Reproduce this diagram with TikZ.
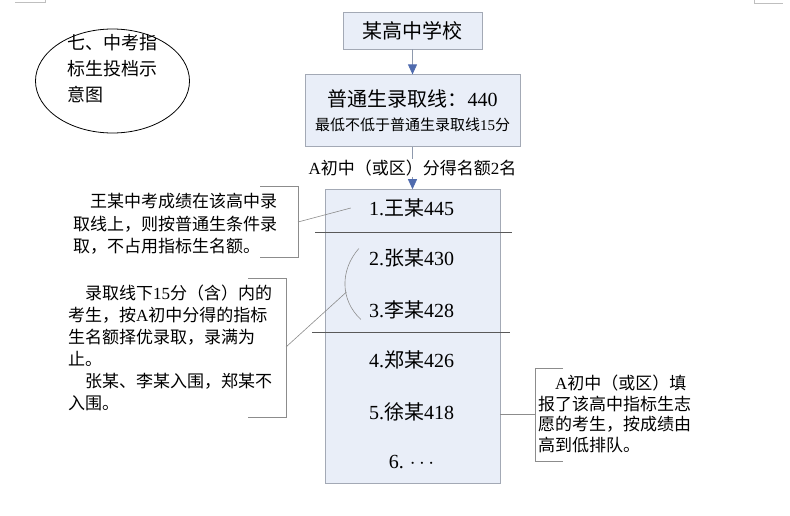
\documentclass[tikz,border=0pt]{standalone}
\usepackage{fontspec}
\setmainfont{Noto Sans CJK SC}
\newfontfamily\digitfont{Liberation Serif}
\usetikzlibrary{arrows.meta,positioning,shapes.geometric}
\definecolor{boxfill}{HTML}{E9EEF8}
\definecolor{boxline}{HTML}{A3A9B5}
\definecolor{tipblue}{HTML}{4F6BAE}
\definecolor{stemgray}{HTML}{8E99AD}
\definecolor{notegray}{HTML}{8C8C8C}

\begin{document}
\begin{tikzpicture}[x=1pt,y=-1pt,
  flow line/.style={draw=stemgray,line width=0.8pt,
    -{Triangle[width=9pt,length=10pt,color=tipblue,fill=tipblue]}},
  school box/.style={rectangle,draw=boxline,fill=boxfill,line width=0.8pt,
    inner sep=0pt},
  item node/.style={inner sep=0pt,font=\fontsize{20}{24}\selectfont},
  note node/.style={inner sep=0pt,align=left,anchor=west},
  note line/.style={draw=notegray,line width=0.6pt},
  sep line/.style={draw=black!65,line width=0.7pt}]

  \useasboundingbox (0,0) rectangle (790,516);
  \draw[black!25,line width=0.5pt] (15,2) -- (45,2) -- (45,0);
  \draw[black!25,line width=0.5pt] (754,0) -- (754,3) -- (783,3);

  % title
  \node[ellipse,draw,line width=0.8pt,minimum width=154pt,minimum height=104pt] (Title) at (112.5,81) {};
  \node[note node,font=\fontsize{18}{26}\selectfont] (TitleText) at (67,69) {七、中考指\\标生投档示\\意图};

  % main column
  \node[school box,minimum width=139pt,minimum height=37pt,
    font=\fontsize{20}{24}\selectfont] (School) at (412.5,30.5) {某高中学校};
  \node[school box,minimum width=215pt,minimum height=72pt,align=center,
    below=25pt of School] (Line)
    {\fontsize{20}{25}\selectfont 普通生录取线：{\digitfont 440}\\[8pt]
     \fontsize{15}{19}\selectfont 最低不低于普通生录取线{\digitfont 15}分};
  \node[school box,minimum width=175pt,minimum height=294pt,below=42pt of Line] (List) {};

  \node[item node] (Wang) at (411.5,208) {{\digitfont 1.}王某{\digitfont 445}};
  \node[item node] (Zhang) at (411.5,258) {{\digitfont 2.}张某{\digitfont 430}};
  \node[item node] (Li) at (411.5,310) {{\digitfont 3.}李某{\digitfont 428}};
  \node[item node] (Zheng) at (411.5,360) {{\digitfont 4.}郑某{\digitfont 426}};
  \node[item node] (Xu) at (411.5,412) {{\digitfont 5.}徐某{\digitfont 418}};
  \node[item node] (More) at (411.5,462) {{\digitfont 6.} $\cdots$};

  \draw[sep line] (315,232) -- (512,232);
  \draw[sep line] (312,332) -- (510,332);

  \path (School) edge[flow line] (Line)
    (Line) edge[flow line] node[fill=white,inner sep=1pt,
      font=\fontsize{17}{20}\selectfont] {{\digitfont A}初中（或区）分得名额{\digitfont 2}名} (List);

  % notes
  \node[note node,font=\fontsize{17}{22.5}\selectfont] (WangNote) at (73,224)
    {\hspace*{1em}王某中考成绩在该高中录\\取线上，则按普通生条件录\\取，不占用指标生名额。};
  \node[note node,font=\fontsize{17}{22}\selectfont] (QuotaNote) at (68,348)
    {\hspace*{1em}录取线下{\digitfont 15}分（含）内的\\考生，按{\digitfont A}初中分得的指标\\生名额择优录取，录满为\\止。\\\hspace*{1em}张某、李某入围，郑某不\\入围。};
  \node[note node,font=\fontsize{17}{20.7}\selectfont] (RankNote) at (538,414)
    {\hspace*{1em}{\digitfont A}初中（或区）填\\报了该高中指标生志\\愿的考生，按成绩由\\高到低排队。};

  \draw[note line] (260,186) -- (298,186) -- (298,257) -- (260,257);
  \draw[note line] (248,278) -- (286,278) -- (286,417) -- (248,417);
  \draw[note line] (563,368) -- (535,368) -- (535,461) -- (563,461);

  \coordinate (b1) at (298,222);
  \coordinate (b2) at (286,347);
  \coordinate (b3) at (535,414);
  \coordinate (arc) at (346.5,292);
  \draw[note line] (b1) -- ([xshift=-18pt]Wang.west);
  \draw[note line] ([xshift=-10pt]Zhang.north west) .. controls (340,270) and (340,300) .. ([xshift=-8pt]Li.south west);
  \draw[note line] (b2) -- (arc);
  \draw[note line] (List.east |- b3) -- (b3);
\end{tikzpicture}
\end{document}
